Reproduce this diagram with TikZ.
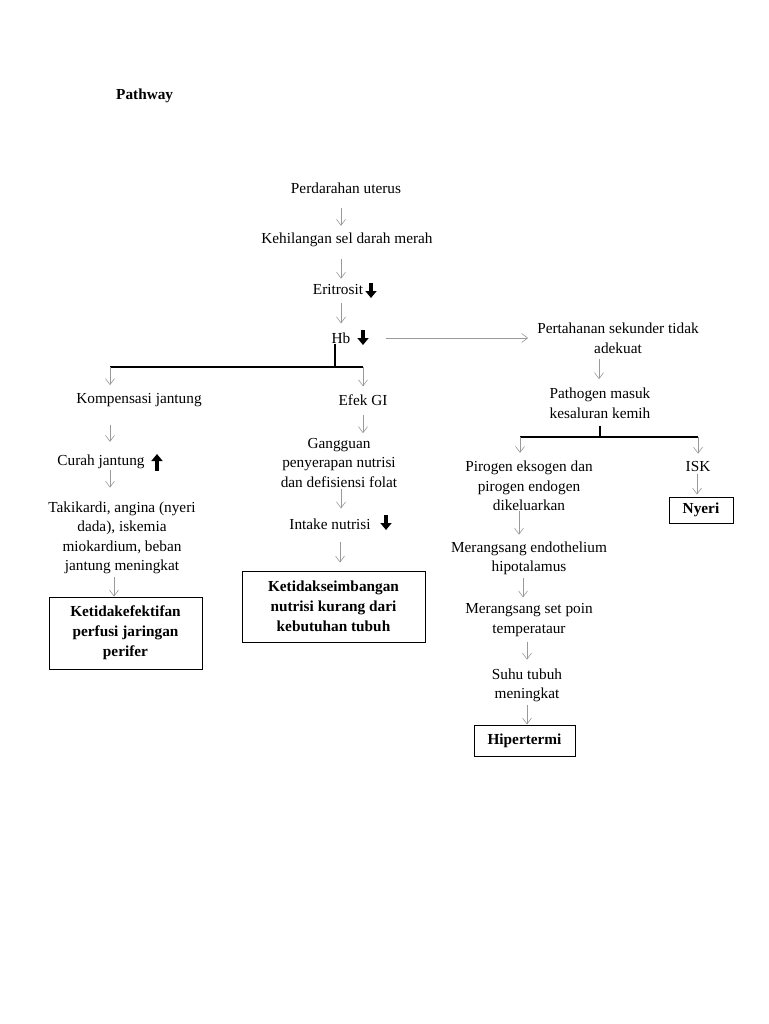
\documentclass[tikz,border=0pt]{standalone}
\usepackage{fontspec}
\setmainfont{Liberation Serif}
\usetikzlibrary{arrows.meta}
\begin{document}
\begin{tikzpicture}[x=1pt,y=-1pt,
  txt/.style={align=center, inner sep=0pt, font=\fontsize{15.3}{19.5}\selectfont},
  box/.style={draw, line width=1pt, align=center, inner sep=0pt,
    font=\fontsize{15.3}{20}\selectfont\bfseries},
  garrow/.style={draw=black!40, line width=0.6pt, -{Straight Barb[length=6pt,width=9pt]}},
  barrow/.style={line width=3.6pt, -{Triangle[length=7pt,width=11pt]}},
  bline/.style={line width=1.1pt}]
\useasboundingbox[fill=white] (0,0) rectangle (768,1024);

\node[txt, font=\fontsize{15.3}{19.5}\selectfont\bfseries, anchor=west] (title) at (116,96) {Pathway};

\node[txt] (n1) at (346,188) {Perdarahan uterus};
\node[txt] (n2) at (347,240) {Kehilangan sel darah merah};
\node[txt] (n3) at (338,290) {Eritrosit};
\node[txt] (n4) at (341,338) {Hb};
\node[txt] (n5) at (618,338.5) {Pertahanan sekunder tidak\\adekuat};
\node[txt] (n6) at (139,400) {Kompensasi jantung};
\node[txt] (n7) at (363,400) {Efek GI};
\node[txt] (n8) at (101,462) {Curah jantung};
\node[txt] (n9) at (122,538) {Takikardi, angina (nyeri\\dada), iskemia\\miokardium, beban\\jantung meningkat};
\node[box, minimum width=153pt, minimum height=72pt] (b1) at (125.5,633) {Ketidakefektifan\\perfusi jaringan\\perifer};
\node[txt] (n10) at (339,463) {Gangguan\\penyerapan nutrisi\\dan defisiensi folat};
\node[txt] (n11) at (330,524) {Intake nutrisi};
\node[box, minimum width=183pt, minimum height=71pt] (b2) at (333.5,606.5) {Ketidakseimbangan\\nutrisi kurang dari\\kebutuhan tubuh};
\node[txt] (n12) at (600,403.5) {Pathogen masuk\\kesaluran kemih};
\node[txt] (n13) at (529,486) {Pirogen eksogen dan\\pirogen endogen\\dikeluarkan};
\node[txt] (n14) at (698,467) {ISK};
\node[box, minimum width=64pt, minimum height=26pt] (b3) at (701,510) {Nyeri};
\node[txt] (n15) at (529,558.5) {Merangsang endothelium\\hipotalamus};
\node[txt] (n16) at (529,620) {Merangsang set poin\\temperataur};
\node[txt] (n17) at (527,685.5) {Suhu tubuh\\meningkat};
\node[box, minimum width=101pt, minimum height=31pt] (b4) at (524.5,740.5) {Hipertermi};

% column coordinates
\coordinate (cA) at (341,0);
\coordinate (h) at (335,367);
\coordinate (hl) at (110,367);
\coordinate (hr) at (363,367);
\coordinate (k) at (600,437);
\coordinate (kl) at (520,437);
\coordinate (kr) at (698,437);

% main column
\draw[garrow, shorten <=14pt, shorten >=7pt] (n1.south -| cA) -- (n2.north -| cA);
\draw[garrow, shorten <=12pt, shorten >=6pt] (n2.south -| cA) -- (n3.north -| cA);
\draw[garrow, shorten <=8pt, shorten >=9pt] (n3.south -| cA) -- (n4.north -| cA);
\draw[garrow, shorten <=35pt, shorten >=9pt] (n4.east) -- (n4.east -| n5.west);

% black arrows
\coordinate (ba1) at (371,283);
\coordinate (ba2) at (363,330);
\coordinate (ba3) at (157,471);
\coordinate (ba4) at (386,515);
\draw[barrow] (ba1) -- ++(0,15);
\draw[barrow] (ba2) -- ++(0,15);
\draw[barrow] (ba3) -- ++(0,-17);
\draw[barrow] (ba4) -- ++(0,15);

% branch under Hb
\draw[bline] (n4.south -| h) -- (h);
\draw[bline] (hl) -- (hr);
\draw[garrow, shorten >=8pt] (hl) -- (hl |- n6.north);
\draw[garrow, shorten >=8pt] (hr) -- (n7.north);

% left column
\draw[garrow, shorten <=18pt, shorten >=13pt] (n6.south -| hl) -- (n8.north -| hl);
\draw[garrow, shorten <=1pt, shorten >=14pt] (n8.south -| hl) -- (n9.north -| hl);
\draw[garrow, shorten <=3pt] ([xshift=-8pt]n9.south) -- ([xshift=-8pt]n9.south |- b1.north);

% middle column
\draw[garrow, shorten <=9pt, shorten >=5pt] (n7.south) -- (n7.south |- n10.north);
\draw[garrow, shorten <=1pt, shorten >=10pt] (n10.south -| cA) -- (n11.north -| cA);
\draw[garrow, shorten <=12pt, shorten >=8pt] ([xshift=10pt]n11.south) -- ([xshift=10pt]n11.south |- b2.north);

% right column
\draw[garrow, shorten <=5pt, shorten >=9pt] ([xshift=-19pt]n5.south) -- ([xshift=-19pt]n5.south |- n12.north);
\draw[bline, shorten <=7pt] (n12.south) -- (k);
\draw[bline] (kl) -- (kr);
\draw[garrow, shorten >=8pt] (kl) -- (kl |- n13.north);
\draw[garrow, shorten >=8pt] (kr) -- (n14.north);
\draw[garrow, shorten <=2pt, shorten >=2pt] ([xshift=-1pt]n14.south) -- ([xshift=-1pt]n14.south |- b3.north);
\draw[garrow, shorten >=7pt] ([xshift=-10pt]n13.south) -- ([xshift=-10pt]n13.south |- n15.north);
\draw[garrow, shorten <=3pt, shorten >=6pt] ([xshift=-6pt]n15.south) -- ([xshift=-6pt]n15.south |- n16.north);
\draw[garrow, shorten <=5pt, shorten >=9pt] ([xshift=-2pt]n16.south) -- ([xshift=-2pt]n16.south |- n17.north);
\draw[garrow, shorten <=3pt] (n17.south) -- (n17.south |- b4.north);
\end{tikzpicture}
\end{document}
